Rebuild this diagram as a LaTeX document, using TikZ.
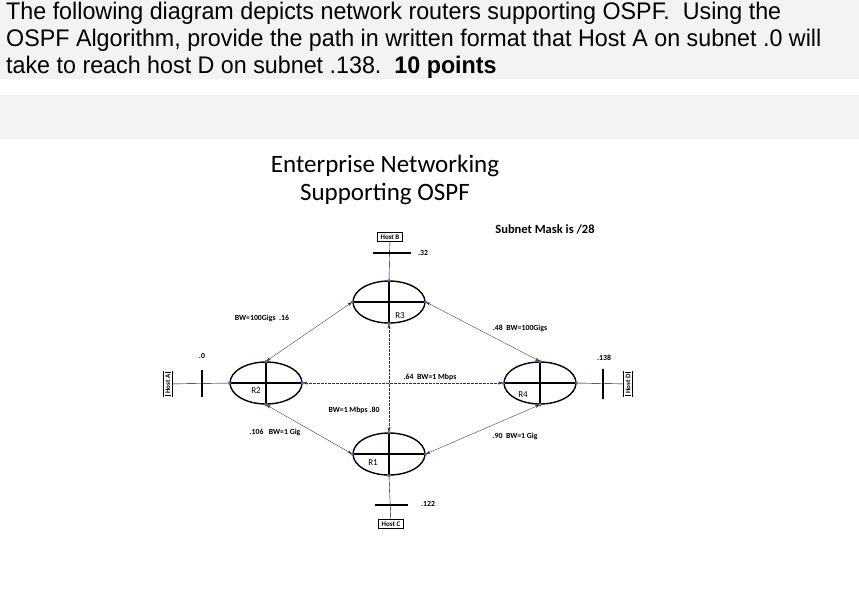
\documentclass[tikz,border=0pt]{standalone}
\usepackage{fontspec}
\setmainfont{Liberation Sans}
\newfontfamily\calib{Carlito}
\usetikzlibrary{shapes.geometric,arrows.meta}
\definecolor{bgrey}{HTML}{F3F3F3}
\definecolor{dotblue}{HTML}{4472C4}
\tikzset{
  router/.style={ellipse,draw,line width=1.4pt,minimum width=72pt,minimum height=42pt,inner sep=0pt},
  link/.style={{Stealth[length=5pt,width=3pt]}-{Stealth[length=5pt,width=3pt]},line width=0.35pt,draw=black!80},
  slow/.style={link,densely dotted},
  host/.style={draw,fill=white,double,double distance=1pt,line width=0.5pt,font=\calib\bfseries\fontsize{7}{8}\selectfont,inner xsep=2.5pt,inner ysep=1.5pt},
  lbl/.style={font=\calib\bfseries\fontsize{7.8}{9}\selectfont},
  rname/.style={font=\calib\fontsize{9}{10}\selectfont},
  bar/.style={line width=2pt}
}
\begin{document}
\begin{tikzpicture}[x=1pt,y=-1pt]
  \useasboundingbox (0,0) rectangle (859,595);
  % Hintergrund
  \fill[bgrey] (0,0) rectangle (859,79);
  \fill[bgrey] (0,95) rectangle (859,139);

  % Aufgabentext
  \node[anchor=north west,align=left,inner sep=0pt,font=\fontsize{24}{27}\selectfont,xscale=0.97,transform shape] (task) at (6,2)
    {The following diagram depicts network routers supporting OSPF.\ \ Using the\\
     OSPF Algorithm, provide the path in written format that Host A on subnet .0 will\\
     take to reach host D on subnet .138.\ \ \textbf{10 points}};

  % Titel
  \node[font=\calib\fontsize{25}{28}\selectfont,align=center] (title) at (385,180)
    {Enterprise Networking\\Supporting OSPF};
  \node[font=\calib\bfseries\fontsize{12.5}{14}\selectfont] (mask) at (545,229) {Subnet Mask is /28};

  % Router
  \node[router] (R3) at (389,302) {};
  \node[router] (R2) at (266,383) {};
  \node[router] (R4) at (540,383) {};
  \node[router] (R1) at (389,454) {};
  \foreach \r in {R1,R2,R3,R4} {
    \draw[line width=1.4pt] (\r.west) -- (\r.east);
    \draw[line width=1.4pt] (\r.north) -- (\r.south);
  }
  \node[rname] at (400,316) {R3};
  \node[rname] at (256,391) {R2};
  \node[rname] at (523,395) {R4};
  \node[rname] at (373,463) {R1};

  % Hosts
  \draw (390,237) -- (R3.north);
  \draw (391,524) -- (R1.south);
  \draw (168,384) -- (R2.west);
  \draw (628,384) -- (R4.east);
  \node[host] (hB) at (390,237) {Host B};
  \node[host] (hC) at (391,524) {Host C};
  \node[host,rotate=90] (hA) at (168,384) {Host A};
  \node[host,rotate=90] (hD) at (628,384) {Host D};
  \draw[bar] (373,253) -- (411,253);
  \draw[bar] (375,505) -- (408,505);
  \draw[bar] (202,370) -- (202,397);
  \draw[bar] (603,369) -- (603,399);

  % Verbindungen
  \draw[link] (R3.west) -- (R2.north);
  \draw[link] (R3.east) -- (R4.north);
  \draw[link] (R2.south) -- (R1.west);
  \draw[link] (R4.south) -- (R1.east);
  \draw[slow] (R2.east) -- (R4.west);
  \draw[slow] (R3.south) -- (R1.north);

  % Punkte
  \foreach \r in {R1,R2,R3,R4}
    \foreach \a in {north,south,east,west}
      \fill[dotblue] (\r.\a) circle (1.8pt);

  % Beschriftungen
  \node[lbl] at (423,253) {.32};
  \node[lbl] at (428,504) {.122};
  \node[lbl] at (202,356) {.0};
  \node[lbl] at (604,358) {.138};
  \node[lbl] at (262,318) {BW=100Gigs\ \ .16};
  \node[lbl] at (520,328) {.48\ \ BW=100Gigs};
  \node[lbl] at (430,377) {.64\ \ BW=1 Mbps};
  \node[lbl] at (354,410) {BW=1 Mbps\ .80};
  \node[lbl] at (275,432) {.106\ \ \ BW=1 Gig};
  \node[lbl] at (515,436) {.90\ \ BW=1 Gig};
\end{tikzpicture}
\end{document}
